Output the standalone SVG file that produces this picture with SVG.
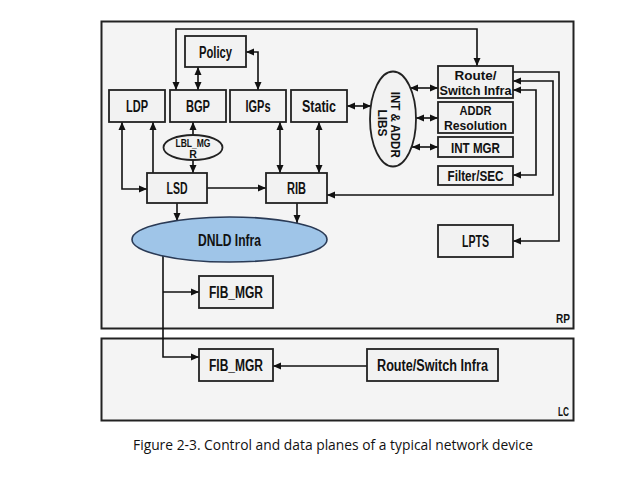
<svg xmlns="http://www.w3.org/2000/svg" width="638" height="478" viewBox="0 0 638 478">
<style>
.frame{fill:#f4f4f4;stroke:#222;stroke-width:2}
.box{fill:#f2f2f2;stroke:#222;stroke-width:1.8}
.t{font-family:"Liberation Sans",Arial,sans-serif;font-weight:bold;font-size:16px;fill:#111;text-anchor:middle}
.m{font-size:15px}
.n{font-size:13px}
.s{font-size:10.5px}
.lbl{font-family:"Liberation Sans",Arial,sans-serif;font-weight:bold;font-size:13px;fill:#111;text-anchor:end}
.c{fill:none;stroke:#111;stroke-width:1.6}
.d{marker-start:url(#ah);marker-end:url(#ah)}
.e{marker-end:url(#ah)}
.cap{font-family:"Open Sans","Liberation Sans",Arial,sans-serif;font-size:14px;fill:#111}
</style>
<defs>
<marker id="ah" markerUnits="userSpaceOnUse" markerWidth="8" markerHeight="8" viewBox="0 0 8 8" refX="8" refY="4" orient="auto-start-reverse">
<path d="M0,0.5 L8,4 L0,7.5 z" fill="#111"/>
</marker>
</defs>
<rect width="638" height="478" fill="#fff"/>
<g id="RP"><rect class="frame" x="101.5" y="21.5" width="472" height="307"/><text class="lbl" x="570" y="323" textLength="14" lengthAdjust="spacingAndGlyphs">RP</text></g>
<g id="LC"><rect class="frame" x="101.5" y="338.5" width="472" height="82"/><text class="lbl" x="569" y="416" textLength="11" lengthAdjust="spacingAndGlyphs">LC</text></g>

<g id="connectors">
<path class="c d" d="M176,90 V29 H477 V66"/>
<path class="c d" d="M198,67 V90"/>
<path class="c d" d="M246,52 H258 V90"/>
<path class="c d" d="M347,106 H371"/>
<path class="c d" d="M410,88 H438"/>
<path class="c d" d="M416,118 H438"/>
<path class="c d" d="M412,147 H438"/>
<path class="c e" d="M513,72 H559 V241 H513"/>
<path class="c d" d="M327,195 H553 V81 H513"/>
<path class="c d" d="M513,90 H536 V175 H513"/>
<path class="c d" d="M122,122 V189 H147"/>
<path class="c e" d="M153,173 V122"/>
<path class="c e" d="M193,135 V122"/>
<path class="c e" d="M193,160 V173"/>
<path class="c d" d="M280,122 V173"/>
<path class="c d" d="M319,122 V173"/>
<path class="c e" d="M207,188 H266"/>
<path class="c e" d="M177,203 V221"/>
<path class="c e" d="M297,203 V223"/>
<path class="c e" d="M163,256 V357 H199"/>
<path class="c e" d="M163,292 H199"/>
<path class="c e" d="M367,366 H273"/>
</g>

<g id="policy"><rect class="box" x="185" y="36" width="61" height="31"/><text class="t" x="215.5" y="57.5" textLength="33" lengthAdjust="spacingAndGlyphs">Policy</text></g>
<g id="ldp"><rect class="box" x="109" y="90" width="56" height="32"/><text class="t" x="137" y="112" textLength="22" lengthAdjust="spacingAndGlyphs">LDP</text></g>
<g id="bgp"><rect class="box" x="170" y="90" width="56" height="32"/><text class="t" x="198" y="112" textLength="24" lengthAdjust="spacingAndGlyphs">BGP</text></g>
<g id="igps"><rect class="box" x="230" y="90" width="56" height="32"/><text class="t" x="258" y="112" textLength="25" lengthAdjust="spacingAndGlyphs">IGPs</text></g>
<g id="static"><rect class="box" x="291" y="90" width="56" height="32"/><text class="t" x="319" y="112" textLength="34" lengthAdjust="spacingAndGlyphs">Static</text></g>
<g id="libs"><ellipse class="box" cx="393" cy="119" rx="23" ry="47.5"/><g transform="rotate(90 393 119)"><text class="t n" x="398.7" y="121" textLength="66" lengthAdjust="spacingAndGlyphs">INT &amp; ADDR</text><text class="t n" x="397" y="134.3" textLength="27" lengthAdjust="spacingAndGlyphs">LIBS</text></g></g>
<g id="rsinfra"><rect class="box" x="438" y="66" width="75" height="32"/><text class="t n" x="475.5" y="80" textLength="42" lengthAdjust="spacingAndGlyphs">Route/</text><text class="t n" x="475.5" y="95" textLength="72" lengthAdjust="spacingAndGlyphs">Switch Infra</text></g>
<g id="addr"><rect class="box" x="438" y="102" width="75" height="31"/><text class="t n" x="475.5" y="115" textLength="32" lengthAdjust="spacingAndGlyphs">ADDR</text><text class="t n" x="475.5" y="130" textLength="63" lengthAdjust="spacingAndGlyphs">Resolution</text></g>
<g id="intmgr"><rect class="box" x="438" y="137" width="75" height="20"/><text class="t m" x="475.5" y="152.5" textLength="49" lengthAdjust="spacingAndGlyphs">INT MGR</text></g>
<g id="filter"><rect class="box" x="438" y="166" width="75" height="19"/><text class="t m" x="475.5" y="181" textLength="56" lengthAdjust="spacingAndGlyphs">Filter/SEC</text></g>
<g id="lpts"><rect class="box" x="438" y="225" width="75" height="32"/><text class="t" x="475.5" y="247" textLength="27" lengthAdjust="spacingAndGlyphs">LPTS</text></g>
<g id="lblmgr"><ellipse class="box" cx="193" cy="147.5" rx="29.5" ry="12.5"/><text class="t s" x="193" y="147" textLength="35" lengthAdjust="spacingAndGlyphs">LBL_MG</text><text class="t s" x="193" y="158">R</text></g>
<g id="lsd"><rect class="box" x="147" y="173" width="60" height="30"/><text class="t" x="177" y="194" textLength="21" lengthAdjust="spacingAndGlyphs">LSD</text></g>
<g id="rib"><rect class="box" x="266" y="173" width="61" height="30"/><text class="t" x="296.5" y="194" textLength="19" lengthAdjust="spacingAndGlyphs">RIB</text></g>
<g id="dnld"><ellipse cx="229.5" cy="239.5" rx="97.5" ry="22.5" fill="#9fc5e8" stroke="#2a3a55" stroke-width="1.6"/><text class="t" x="229.5" y="245.5" textLength="63" lengthAdjust="spacingAndGlyphs">DNLD Infra</text></g>
<g id="fibrp"><rect class="box" x="199" y="276" width="74" height="32"/><text class="t" x="236" y="298" textLength="54" lengthAdjust="spacingAndGlyphs">FIB_MGR</text></g>
<g id="fiblc"><rect class="box" x="199" y="349" width="74" height="32"/><text class="t" x="236" y="371" textLength="54" lengthAdjust="spacingAndGlyphs">FIB_MGR</text></g>
<g id="rslc"><rect class="box" x="367" y="349" width="131" height="32"/><text class="t" x="432.5" y="371" textLength="111" lengthAdjust="spacingAndGlyphs">Route/Switch Infra</text></g>
<text class="cap" x="133" y="450" textLength="400" lengthAdjust="spacingAndGlyphs">Figure 2-3. Control and data planes of a typical network device</text>
</svg>
